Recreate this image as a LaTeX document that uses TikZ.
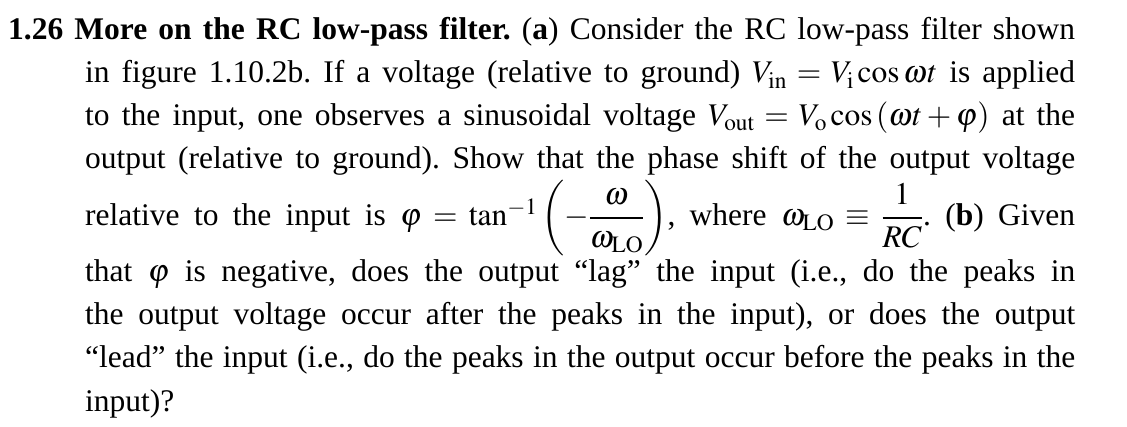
\documentclass[tikz,border=0pt]{standalone}
\usepackage{amsmath}
\usepackage{mathptmx}
\usepackage[no-math]{fontspec}
\setmainfont{Liberation Serif}
\frenchspacing
\begin{document}
\begin{tikzpicture}[x=1pt,y=-1pt,line/.style={anchor=base west,inner sep=0pt,font=\fontsize{31.5}{38}\selectfont\frenchspacing}]
\useasboundingbox (0,0) rectangle (1127,427);
\node[line] (l1) at (8,40) {\makebox[1067pt][s]{\textbf{1.26 More on the RC low-pass filter.} (\textbf{a}) Consider the RC low-pass filter shown}};
\node[line] (l2) at (85,83) {\makebox[990pt][s]{in figure 1.10.2b. If a voltage (relative to ground) $V_{\mathrm{in}}=V_{\mathrm{i}}\cos\omega t$ is applied}};
\node[line] (l3) at (85,126) {\makebox[990pt][s]{to the input, one observes a sinusoidal voltage $V_{\mathrm{out}}=V_{\mathrm{o}}\cos{(\omega t+\varphi)}$ at the}};
\node[line] (l4) at (85,169) {\makebox[990pt][s]{output (relative to ground). Show that the phase shift of the output voltage}};
\node[line] (l5) at (85,226) {\makebox[990pt][s]{relative to the input is $\varphi=\tan^{-1}\left(-\dfrac{\omega}{\omega_{\mathrm{LO}}}\right)$, where $\omega_{\mathrm{LO}}\equiv\dfrac{1}{RC}$. (\textbf{b}) Given}};
\node[line] (l6) at (85,282) {\makebox[990pt][s]{that $\varphi$ is negative, does the output ``lag'' the input (i.e., do the peaks in}};
\node[line] (l7) at (85,325) {\makebox[990pt][s]{the output voltage occur after the peaks in the input), or does the output}};
\node[line] (l8) at (85,368) {\makebox[990pt][s]{``lead'' the input (i.e., do the peaks in the output occur before the peaks in the}};
\node[line] (l9) at (85,411) {input)?};
\end{tikzpicture}
\end{document}
